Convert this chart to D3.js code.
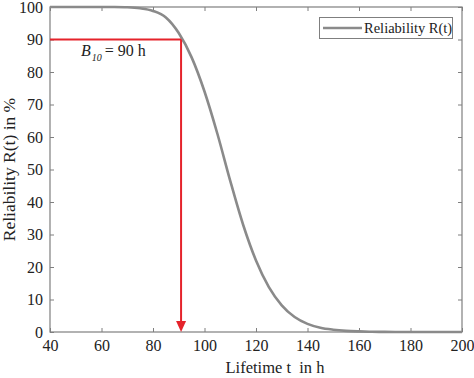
<!DOCTYPE html>
<html><head><meta charset="utf-8">
<script src="https://cdn.jsdelivr.net/npm/d3@7"></script>
<style>body{margin:0;background:#fff}svg{display:block}svg text{font-family:"Liberation Serif","Times New Roman","DejaVu Serif",serif !important;fill:#222}</style>
</head><body><svg id="c" width="474" height="378"></svg>
<script>
const lifetime = [40,45,50,55,60,65,70,75,80,85,90,95,100,105,110,115,120,125,130,135,140,145,150,155,160,165,170,180,190,200];
const reliability = [100,100,100,100,100,99.98,99.9,99.6,98.8,96.8,92.0,84.5,74.0,61.0,46.5,33.0,22.0,13.8,8.2,4.6,2.5,1.3,0.7,0.35,0.18,0.08,0.04,0,0,0];
const xTicks = [40,60,80,100,120,140,160,180,200];
const yTicks = [0,10,20,30,40,50,60,70,80,90,100];
const b10Time = 90.9, b10Level = 90;
const seriesName = "Reliability R(t)";
const xTitle = "Lifetime t\u00a0\u00a0in h", yTitle = "Reliability R(t) in %";

const svg = d3.select("#c");
const FONT = '"Liberation Serif","Times New Roman","DejaVu Serif",serif';
const L=50,R=462,T=7,B=332;
const x = d3.scaleLinear().domain([40,200]).range([L,R]);
const y = d3.scaleLinear().domain([0,100]).range([B,T]);
const axCol="#7f7f7f", red="#e5232b";

svg.append("rect").attr("x",L).attr("y",T).attr("width",R-L).attr("height",B-T).attr("fill","none").attr("stroke",axCol).attr("stroke-width",1.2);

function style(g){g.attr("font-family",FONT);g.select(".domain").remove();g.selectAll(".tick line").attr("stroke",axCol);g.selectAll("text").attr("font-size",16).attr("fill","#222").style("font-family",FONT);}
svg.append("g").attr("transform",`translate(0,${B})`).call(d3.axisBottom(x).tickValues(xTicks).tickSizeInner(-4).tickSizeOuter(0).tickPadding(8)).call(style);
svg.append("g").attr("transform",`translate(0,${T})`).call(d3.axisTop(x).tickValues(xTicks).tickSizeInner(-4).tickSizeOuter(0).tickFormat("")).call(style);
svg.append("g").attr("transform",`translate(${L},0)`).call(d3.axisLeft(y).tickValues(yTicks).tickSizeInner(-4).tickSizeOuter(0).tickPadding(7)).call(style);
svg.append("g").attr("transform",`translate(${R},0)`).call(d3.axisRight(y).tickValues(yTicks).tickSizeInner(-4).tickSizeOuter(0).tickFormat("")).call(style);

const line = d3.line().x((d,i)=>x(lifetime[i])).y(d=>y(d)).curve(d3.curveMonotoneX);
svg.append("path").datum(reliability).attr("d",line).attr("fill","none").attr("stroke","#8a8a8a").attr("stroke-width",2.6);

svg.append("line").attr("x1",x(40)).attr("x2",x(b10Time)).attr("y1",y(b10Level)).attr("y2",y(b10Level)).attr("stroke",red).attr("stroke-width",2);
svg.append("line").attr("x1",x(b10Time)).attr("x2",x(b10Time)).attr("y1",y(b10Level)).attr("y2",y(0)-9).attr("stroke",red).attr("stroke-width",2);
const ax=x(b10Time), ay=y(0);
svg.append("path").attr("d",`M${ax-5},${ay-11}L${ax+5},${ay-11}L${ax},${ay}Z`).attr("fill",red);

const lab = svg.append("text").attr("x",81).attr("y",56).attr("font-size",16).style("font-family",FONT);
lab.append("tspan").attr("font-style","italic").text("B");
lab.append("tspan").attr("font-style","italic").attr("font-size",10).attr("dx",1).attr("dy",5).text("10");
lab.append("tspan").attr("dy",-5).attr("dx",-1).text(" = 90 h");

svg.append("rect").attr("x",319.5).attr("y",17.5).attr("width",133).attr("height",21).attr("fill","#fff").attr("stroke",axCol).attr("stroke-width",1);
svg.append("line").attr("x1",323).attr("x2",362).attr("y1",28).attr("y2",28).attr("stroke","#8a8a8a").attr("stroke-width",2.6);
svg.append("text").attr("x",364).attr("y",33).attr("font-size",14.5).style("font-family",FONT).text(seriesName);

svg.append("text").attr("x",275).attr("y",373).attr("text-anchor","middle").attr("font-size",16.5).style("font-family",FONT).text(xTitle);
svg.append("text").attr("transform",`translate(15,${(T+B)/2}) rotate(-90)`).attr("text-anchor","middle").attr("font-size",17.5).style("font-family",FONT).text(yTitle);
</script></body></html>
